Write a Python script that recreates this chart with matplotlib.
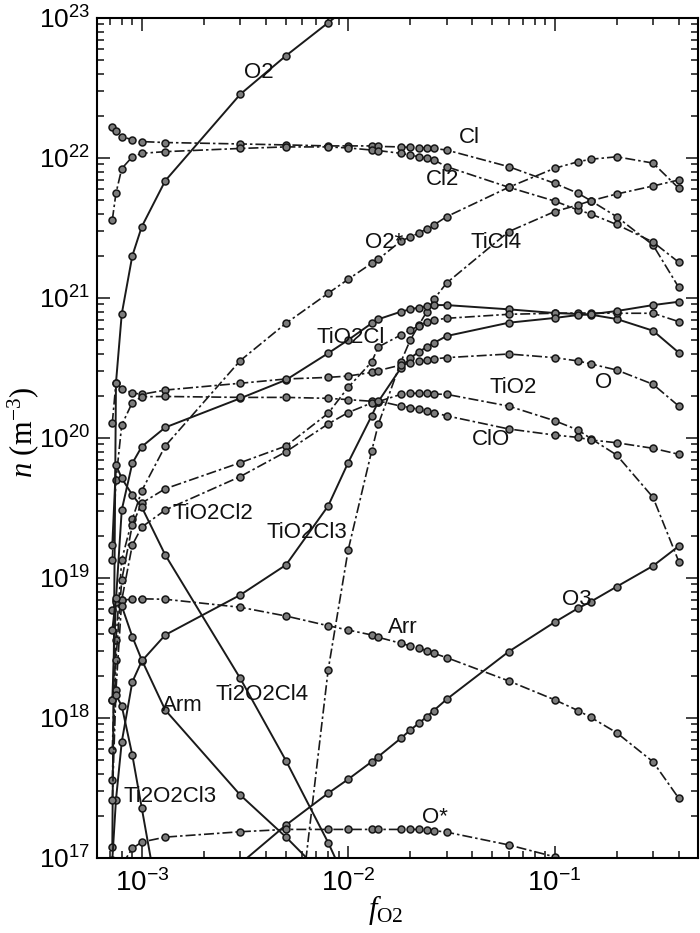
import matplotlib
matplotlib.use("Agg")
import matplotlib.pyplot as plt
from matplotlib.ticker import LogLocator, NullFormatter, FixedLocator

plt.rcParams['font.family'] = ['Liberation Sans', 'DejaVu Sans']
plt.rcParams['mathtext.fontset'] = 'custom'
plt.rcParams['mathtext.rm'] = 'Liberation Serif'
plt.rcParams['mathtext.it'] = 'Liberation Serif:italic'

# ---- data ----
x_grid = [7.2e-4, 7.5e-4, 8e-4, 9e-4, 1e-3, 1.3e-3, 3e-3, 5e-3, 8e-3, 1e-2,
          1.3e-2, 1.4e-2, 1.8e-2, 2e-2, 2.2e-2, 2.4e-2, 2.6e-2, 3e-2, 6e-2,
          0.1, 0.13, 0.15, 0.2, 0.3, 0.4]

cl = [1.67e22, 1.57e22, 1.42e22, 1.35e22, 1.31e22, 1.29e22, 1.26e22, 1.24e22, 1.22e22,
      1.22e22, 1.22e22, 1.21e22, 1.20e22, 1.19e22, 1.18e22, 1.18e22, 1.17e22, 1.14e22,
      8.67e21, 6.6e21, 5.6e21, 4.95e21, 3.81e21, 2.39e21, 1.19e21]
cl2 = [3.61e21, 5.6e21, 8.4e21, 1.02e22, 1.08e22, 1.11e22, 1.17e22, 1.2e22, 1.2e22,
       1.18e22, 1.14e22, 1.13e22, 1.08e22, 1.05e22, 1.02e22, 9.95e21, 9.68e21, 8.67e21,
       6.18e21, 4.93e21, 4.25e21, 3.98e21, 3.35e21, 2.51e21, 1.8e21]
o2 = [1.2e17, 2.47e20, 7.69e20, 2.0e21, 3.23e21, 6.88e21, 2.85e22, 5.38e22, 9.25e22, 1.2e23]
o2s = [5.9e17, 3.6e18, 1.35e19, 2.63e19, 4.2e19, 8.77e19, 3.57e20, 6.6e20, 1.08e21,
       1.36e21, 1.77e21, 1.89e21, 2.55e21, 2.73e21, 2.91e21, 3.11e21, 3.32e21, 3.81e21,
       6.18e21, 8.44e21, 9.4e21, 9.8e21, 1.02e22, 9.2e21, 6.08e21]
ticl4 = [6e15, 2.2e18, 1.58e19, 8.07e19, 1.25e20, 3.49e20, 5.01e20, 6.4e20, 7.94e20,
         9.76e20, 1.28e21, 2.98e21, 4.14e21, 4.62e21, 4.95e21, 5.53e21, 6.31e21, 6.97e21]
tio2cl = [1.35e18, 6.96e18, 3.06e19, 6.6e19, 8.67e19, 1.19e20, 1.92e20, 2.6e20, 4.03e20,
          5.01e20, 6.6e20, 7.05e20, 7.98e20, 8.3e20, 8.55e20, 8.7e20, 8.9e20, 8.9e20,
          8.3e20, 7.81e20, 7.69e20, 7.6e20, 7.08e20, 5.84e20, 4.07e20]
tio2cl2 = [3.6e17, 2.6e18, 9.7e18, 2.39e19, 3.43e19, 4.34e19, 6.66e19, 8.77e19, 1.5e20,
           2.3e20, 3.49e20, 4.47e20, 5.44e20, 5.9e20, 6.31e20, 6.74e20, 6.96e20, 7.16e20,
           7.65e20, 7.78e20, 7.81e20, 7.81e20, 7.78e20, 7.78e20, 6.78e20]
tio2cl3 = [9.7e16, 2.6e17, 6.74e17, 1.81e18, 2.55e18, 3.92e18, 7.56e18, 1.24e19, 3.27e19,
           6.66e19, 1.44e20, 1.82e20, 3.16e20, 3.73e20, 4.11e20, 4.47e20, 4.77e20, 5.35e20,
           6.66e20, 7.2e20, 7.56e20, 7.65e20, 8.07e20, 8.9e20, 9.4e20]
o_at = [1.28e20, 2.47e20, 2.24e20, 2.1e20, 2.05e20, 2.2e20, 2.46e20, 2.64e20, 2.71e20,
        2.77e20, 2.94e20, 3.03e20, 3.32e20, 3.42e20, 3.52e20, 3.6e20, 3.67e20, 3.75e20,
        3.98e20, 3.75e20, 3.55e20, 3.38e20, 3.06e20, 2.42e20, 1.69e20]
tio2 = [1.35e19, 5.0e19, 1.24e20, 1.79e20, 1.97e20, 1.98e20, 1.95e20, 1.95e20, 1.92e20,
        1.88e20, 1.83e20, 1.82e20, 2.05e20, 2.08e20, 2.09e20, 2.09e20, 2.06e20, 2.05e20,
        1.69e20, 1.33e20, 1.14e20, 9.9e19, 7.56e19, 3.77e19, 1.31e19]
clo = [2.6e17, 1.58e18, 6.96e18, 1.72e19, 2.31e19, 3.06e19, 5.3e19, 7.98e19, 1.26e20,
       1.52e20, 1.78e20, 1.84e20, 1.69e20, 1.65e20, 1.6e20, 1.56e20, 1.52e20, 1.44e20,
       1.16e20, 1.05e20, 1.01e20, 9.68e19, 9.25e19, 8.44e19, 7.65e19]
arr = [5.9e18, 6.74e18, 6.96e18, 7.05e18, 7.1e18, 7.05e18, 6.18e18, 5.35e18, 4.56e18,
       4.25e18, 3.92e18, 3.77e18, 3.42e18, 3.27e18, 3.15e18, 3.03e18, 2.9e18, 2.7e18,
       1.84e18, 1.35e18, 1.13e18, 1.01e18, 7.85e17, 4.87e17, 2.67e17]
o3 = [9.1e16, 1.72e17, 2.9e17, 3.65e17, 4.87e17, 5.3e17, 7.16e17, 8.2e17, 9.17e17,
      1.02e18, 1.13e18, 1.36e18, 2.98e18, 4.83e18, 6.08e18, 6.78e18, 8.67e18, 1.22e19, 1.69e19]
ostar = [5e16, 8.9e16, 1.17e17, 1.3e17, 1.41e17, 1.54e17, 1.6e17, 1.6e17, 1.6e17, 1.6e17,
         1.6e17, 1.6e17, 1.6e17, 1.6e17, 1.58e17, 1.57e17, 1.53e17, 1.24e17, 1.02e17, 8e16]
arm = [4.25e18, 7.2e18, 6.31e18, 3.81e18, 2.6e18, 1.14e18, 2.82e17, 1.41e17, 7e16]
ti2o2cl4 = [1.72e19, 6.41e19, 5.16e19, 3.92e19, 3.21e19, 1.46e19, 1.92e18, 4.95e17, 1.29e17, 6.3e16]
ti2o2cl3 = [1.35e18, 1.46e18, 1.22e18, 5.44e17, 2.28e17, 2.6e16]

x_ticks = [1e-3, 1e-2, 1e-1]
y_ticks = [1e17, 1e18, 1e19, 1e20, 1e21, 1e22, 1e23]

# label text and anchor (data coords)
labels = ["O2", "Cl", "Cl2", "O2*", "TiCl4", "TiO2Cl", "TiO2", "O", "ClO", "TiO2Cl2",
          "TiO2Cl3", "Arr", "O3", "Arm", "Ti2O2Cl4", "Ti2O2Cl3", "O*"]
label_x = [3.68e-3, 3.85e-2, 2.88e-2, 1.49e-2, 5.2e-2, 1.03e-2, 6.28e-2, 0.173, 4.92e-2,
           2.21e-3, 6.32e-3, 1.84e-2, 0.128, 1.57e-3, 3.83e-3, 1.37e-3, 2.63e-2]
label_y = [4.1e22, 1.41e22, 6.97e21, 2.51e21, 2.51e21, 5.26e20, 2.28e20, 2.51e20, 9.7e19,
           2.91e19, 2.13e19, 4.4e18, 6.97e18, 1.22e18, 1.48e18, 2.73e17, 1.96e17]

# ---- figure ----
fig = plt.figure(figsize=(7.0, 9.33), dpi=100)
ax = fig.add_axes([97 / 700, 75 / 933, 600.7 / 700, 840 / 933])

solid = '-'
dashdot = (0, (6, 1.8, 1.5, 1.8))
series = [
    (x_grid[:10], o2, solid),
    (x_grid, cl, dashdot),
    (x_grid, cl2, dashdot),
    (x_grid, o2s, dashdot),
    (x_grid[7:], ticl4, dashdot),
    (x_grid, tio2cl, solid),
    (x_grid, tio2cl2, dashdot),
    (x_grid, tio2cl3, solid),
    (x_grid, o_at, dashdot),
    (x_grid, tio2, dashdot),
    (x_grid, clo, dashdot),
    (x_grid, arr, dashdot),
    (x_grid[6:], o3, solid),
    (x_grid[1:21], ostar, dashdot),
    (x_grid[:9], arm, solid),
    (x_grid[:10], ti2o2cl4, solid),
    (x_grid[:6], ti2o2cl3, solid),
]
for xs, ys, ls in series:
    ax.plot(xs, ys, linestyle=ls, color='#1a1a1a', lw=1.4 if ls == solid else 1.2,
            marker='o', ms=5, mfc='#7c7c7c', mec='#151515', mew=1.1)

for t, lx, ly in zip(labels, label_x, label_y):
    ax.text(lx, ly, t, fontsize=16, ha='center', va='center', color='#111111',
            family='Liberation Sans')

ax.set_xscale('log')
ax.set_yscale('log')
ax.set_xlim(6.07e-4, 0.494)
ax.set_ylim(1e17, 1e23)

ax.xaxis.set_major_locator(FixedLocator(x_ticks))
ax.xaxis.set_minor_locator(LogLocator(base=10, subs=range(2, 10), numticks=20))
ax.yaxis.set_major_locator(FixedLocator(y_ticks))
ax.yaxis.set_minor_locator(LogLocator(base=10, subs=range(2, 10), numticks=20))
ax.xaxis.set_minor_formatter(NullFormatter())
ax.yaxis.set_minor_formatter(NullFormatter())

ax.tick_params(which='both', direction='in', top=True, right=True, width=1.1, color='#111')
ax.tick_params(which='major', length=9)
ax.tick_params(which='minor', length=5)
ax.tick_params(axis='x', which='major', pad=8, labelsize=20)
ax.tick_params(axis='y', which='major', pad=5, labelsize=19)
for lab in ax.get_xticklabels() + ax.get_yticklabels():
    lab.set_family('Liberation Sans')
for sp in ax.spines.values():
    sp.set_linewidth(1.5)

ax.set_ylabel(r'$n$ (m$^{-3}$)', fontsize=22, family='Liberation Serif')
ax.yaxis.set_label_coords((23 - 97) / 600.7, (858 - 432) / 840)
ax.yaxis.label.set_va('center')
ax.set_xlabel(r'$f_{\mathrm{O2}}$', fontsize=22, family='Liberation Serif')
ax.xaxis.set_label_coords((386 - 97) / 600.7, (858 - 910) / 840)
ax.xaxis.label.set_va('center')

fig.savefig('out.png', dpi=100)
